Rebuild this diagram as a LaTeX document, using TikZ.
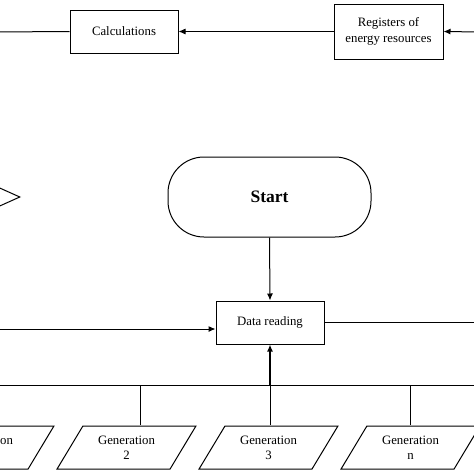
\documentclass[tikz,border=0pt]{standalone}
\usepackage{fontspec}
\setmainfont{Liberation Serif}
\usetikzlibrary{arrows.meta,positioning,shapes.geometric}

\tikzset{
  block/.style={rectangle, draw, line width=1pt, minimum width=108pt, minimum height=43pt,
    align=center, font=\fontsize{12.8}{15.5}\selectfont},
  genbox/.style={trapezium, trapezium left angle=58, trapezium right angle=122,
    trapezium stretches=true, draw, line width=1pt, minimum width=139pt, minimum height=43pt,
    align=center, font=\fontsize{12.8}{15}\selectfont},
  arr/.style={-{Latex[length=7pt,width=6pt]}},
}

\begin{document}
\begin{tikzpicture}[x=1pt, y=-1pt, node distance=142pt, line width=1pt]
  \useasboundingbox (0,0) rectangle (474,474);
  \clip (0,0) rectangle (474,474);

  % top row
  \node[block] (calc) at (124,31.5) {Calculations};
  \node[block, minimum width=109pt, minimum height=55pt] (regs) at (388.5,31.5) {Registers of\\energy resources};
  \coordinate (topL) at (-5,32);
  \coordinate (topR) at (480,32);

  % left decision (cut off)
  \node[diamond, draw, line width=1pt, minimum width=120pt, minimum height=54pt] (check) at (-40,197) {};

  % middle
  \node[draw, line width=1pt, rounded corners=36pt, minimum width=203pt, minimum height=80pt,
    font=\fontsize{17.5}{20}\selectfont\bfseries] (start) at (269.5,197) {Start};
  \node[block] (read) at (270,322.5) {Data reading};
  \coordinate (readL) at (-5,329);
  \coordinate (readR) at (480,322.5);

  % generation sources
  \node[genbox] (gen1) at (-15.5,447.5) {Generation\\1};
  \node[genbox] (gen2) [right of= gen1] {Generation\\2};
  \node[genbox] (gen3) [right of= gen2] {Generation\\3};
  \node[genbox] (gen4) [right of= gen3] {Generation\\n};
  \coordinate (busL) at (-5,385);
  \coordinate (busR) at (480,385);
  \coordinate (bus) at (270,385);

  % connectors
  \draw (topL) -- (calc.west);
  \draw[arr] (regs.west) -- (calc.east);
  \draw[arr] (topR) -- (regs.east);
  \draw[arr] (start.south) -- (read.north);
  \draw[arr] (readL) -- (readL -| read.west);
  \draw (read.east) -- (readR);
  \draw (busL) -- (busR);
  \draw ([xshift=14pt]gen2.north |- bus) -- ([xshift=14pt]gen2.north);
  \draw (bus) -- (bus |- gen3.north);
  \draw (gen4.north |- bus) -- (gen4.north);
  \draw[arr, line width=1.8pt] (bus) -- (read.south);
\end{tikzpicture}
\end{document}
